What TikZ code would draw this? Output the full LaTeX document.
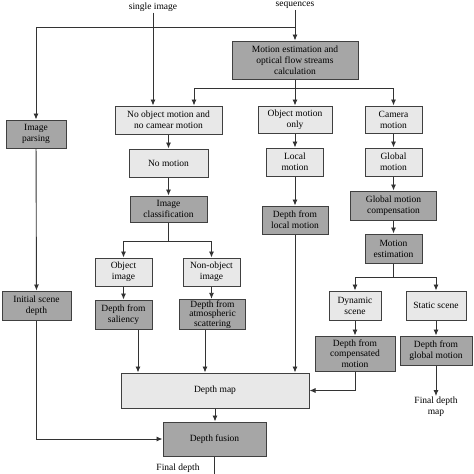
\documentclass[tikz,border=0pt]{standalone}
\usepackage{fontspec}
\setmainfont{Liberation Serif}
\usepackage{tikz}
\usetikzlibrary{arrows.meta}
\tikzstyle{lightbox} = [rectangle, align=center, inner sep=1pt, draw=black!75, line width=1pt, fill=black!9, font=\fontsize{9.5}{10.8}\selectfont]
\tikzstyle{darkbox} = [rectangle, align=center, inner sep=1pt, draw=black!75, line width=1pt, fill=black!35, font=\fontsize{9.5}{10.8}\selectfont]
\tikzstyle{label} = [align=center, inner sep=1pt, font=\fontsize{9.5}{10.8}\selectfont]
\tikzstyle{arrow} = [line width=0.9pt, draw=black!80, -{Latex[length=6pt,width=5pt]}]
\tikzstyle{line} = [line width=0.9pt, draw=black!80]

\begin{document}
\begin{tikzpicture}[x=1pt,y=-1pt]
        \useasboundingbox (0,0) rectangle (474,474);
        % inputs
        \node (simg) [label] at (153,7) {single image};
        \node (seq) [label] at (295,5.5) {sequences};
        \coordinate (split) at (295,27);
        % left column
        \node (parse) [darkbox, minimum width=60pt, minimum height=28pt] at (36,134) {Image\\parsing};
        \node (initdepth) [darkbox, minimum width=69pt, minimum height=29pt] at (36.5,305.5) {Initial scene\\depth};
        % motion estimation
        \node (motest) [darkbox, minimum width=126pt, minimum height=38pt] at (295,60) {Motion estimation and\\optical flow streams\\calculation};
        \coordinate (mbranch) at (295,88);
        % no motion branch
        \node (nomo1) [lightbox, minimum width=107pt, minimum height=28pt] at (168.5,120) {No object motion and\\no camear motion};
        \node (nomotion) [lightbox, minimum width=79pt, minimum height=28pt] at (168.5,163) {No motion};
        \node (imgclass) [darkbox, minimum width=77pt, minimum height=26pt] at (168.5,209) {Image\\classification};
        \coordinate (cbranch) at (168.5,241);
        \node (objimg) [lightbox, minimum width=57pt, minimum height=28pt] at (123.5,272) {Object\\image};
        \node (nonobj) [lightbox, minimum width=57pt, minimum height=28pt] at (211.5,272) {Non-object\\image};
        \node (saliency) [darkbox, minimum width=57pt, minimum height=29pt] at (123.5,314.5) {Depth from\\saliency};
        \node (atmos) [darkbox, minimum width=66pt, minimum height=29pt, font=\fontsize{9.5}{9.8}\selectfont] at (212.5,314.5) {Depth from\\atmospheric\\scattering};
        % object motion branch
        \node (objonly) [lightbox, minimum width=74pt, minimum height=27pt] at (295,119.5) {Object motion\\only};
        \node (local) [lightbox, minimum width=57pt, minimum height=28pt] at (295,162) {Local\\motion};
        \node (deplocal) [darkbox, minimum width=66pt, minimum height=28pt] at (295,220) {Depth from\\local motion};
        % camera motion branch
        \node (cammot) [lightbox, minimum width=57pt, minimum height=27pt] at (393.5,119.5) {Camera\\motion};
        \node (globmot) [lightbox, minimum width=57pt, minimum height=28pt] at (393.5,162) {Global\\motion};
        \node (globcomp) [darkbox, minimum width=86pt, minimum height=29pt] at (393.5,205.5) {Global motion\\compensation};
        \node (motest2) [darkbox, minimum width=57pt, minimum height=29pt] at (393.5,248.5) {Motion\\estimation};
        \coordinate (ebranch) at (393.5,277);
        \node (dynscene) [lightbox, minimum width=52pt, minimum height=29pt] at (355,305.5) {Dynamic\\scene};
        \node (statscene) [lightbox, minimum width=60pt, minimum height=29pt] at (436,305.5) {Static scene};
        \node (depcomp) [darkbox, minimum width=80pt, minimum height=35pt] at (355,353.5) {Depth from\\compensated\\motion};
        \node (depglob) [darkbox, minimum width=72pt, minimum height=29pt] at (436,350.5) {Depth from\\global motion};
        \node (finalmap) [label] at (436,407) {Final depth\\map};
        % fusion
        \node (dmap) [lightbox, minimum width=188pt, minimum height=35pt] at (215,390.5) {Depth map};
        \node (fusion) [darkbox, minimum width=103pt, minimum height=34pt] at (214.5,439) {Depth fusion};
        \node (final) [label] at (178,468) {Final depth};

        \draw [arrow] (simg.south) -- (simg.south |- nomo1.north);
        \draw [arrow] (seq.south) -- (motest.north);
        \draw [arrow] (split) -| (parse.north);
        \draw [line] (motest.south) -- (mbranch);
        \draw [arrow] (mbranch) -| ([xshift=25.5pt]nomo1.north);
        \draw [arrow] (mbranch) -- (objonly.north);
        \draw [arrow] (mbranch) -| (cammot.north);
        \draw [arrow] (nomo1) -- (nomotion);
        \draw [arrow] (nomotion) -- (imgclass);
        \draw [line] (imgclass.south) -- (cbranch);
        \draw [arrow] (cbranch) -| (objimg.north);
        \draw [arrow] (cbranch) -| (nonobj.north);
        \draw [arrow] (objimg) -- (saliency);
        \draw [arrow] (nonobj.south) -- (nonobj.south |- atmos.north);
        \draw [arrow] ([xshift=14.5pt]saliency.south) -- ([xshift=14.5pt]saliency.south |- dmap.north);
        \draw [arrow] ([xshift=-7.5pt]atmos.south) -- ([xshift=-7.5pt]atmos.south |- dmap.north);
        \draw [arrow] (objonly) -- (local);
        \draw [arrow] (local) -- (deplocal);
        \draw [arrow] (deplocal.south) -- (deplocal.south |- dmap.north);
        \draw [arrow] (cammot) -- (globmot);
        \draw [arrow] (globmot) -- (globcomp);
        \draw [arrow] (globcomp) -- (motest2);
        \draw [line] (motest2.south) -- (ebranch);
        \draw [arrow] (ebranch) -| (dynscene.north);
        \draw [arrow] (ebranch) -| (statscene.north);
        \draw [arrow] (dynscene) -- (depcomp);
        \draw [arrow] (statscene) -- (depglob);
        \draw [arrow] (depcomp.south) |- (dmap.east);
        \draw [arrow] (depglob) -- (finalmap);
        \draw [arrow] (parse) -- (initdepth);
        \draw [arrow] (initdepth.south) |- (fusion.west);
        \draw [arrow] (dmap.south) -- (dmap.south |- fusion.north);
        \draw [line] (fusion.south) -- +(0,20);
    \end{tikzpicture}
\end{document}
